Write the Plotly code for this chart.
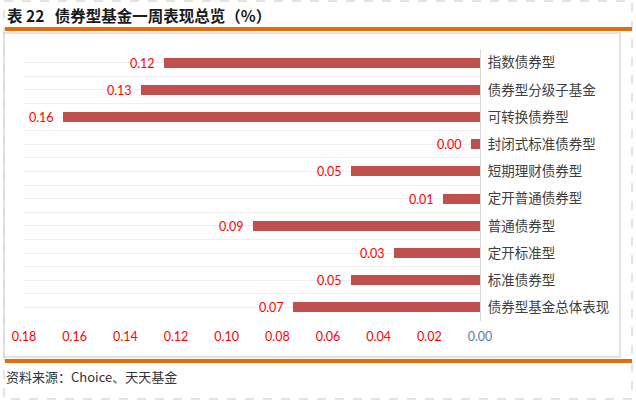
import plotly.graph_objects as go

categories = ["指数债券型", "债券型分级子基金", "可转换债券型", "封闭式标准债券型", "短期理财债券型",
              "定开普通债券型", "普通债券型", "定开标准型", "标准债券型", "债券型基金总体表现"]
values = [0.1247, 0.1338, 0.1646, 0.0036, 0.0509, 0.0146, 0.0896, 0.0340, 0.0510, 0.0738]
tick_vals = [0.18, 0.16, 0.14, 0.12, 0.10, 0.08, 0.06, 0.04, 0.02, 0.00]
tick_text = ["0.18", "0.16", "0.14", "0.12", "0.10", "0.08", "0.06", "0.04", "0.02", "0.00"]

W, H = 636, 404
ML, MR, MT, MB = 24, 156, 49, 83
PW, PH = W - ML - MR, H - MT - MB

def px(x):
    return (x - ML) / PW

def py(y):
    return (H - MB - y) / PH

ypos = list(range(len(categories)))

fig = go.Figure()
fig.add_trace(go.Bar(
    x=values, y=ypos, orientation="h",
    marker=dict(color="#C0504D", line=dict(width=0)),
    width=0.37,
    text=[f"{v:.2f}\u00a0\u00a0" for v in values],
    textposition="outside",
    constraintext="none",
    textfont=dict(color="#FF0000", size=12.5, family="Lato"),
    cliponaxis=False,
    hoverinfo="skip",
))

colored_ticks = [f"<span style='color:#FF0000'>{t}</span>" if t != "0.00" else f"<span style='color:#5B7EA4'>{t}</span>" for t in tick_text]

fig.update_layout(
    width=W, height=H,
    margin=dict(l=ML, r=MR, t=MT, b=MB),
    paper_bgcolor="white", plot_bgcolor="white",
    showlegend=False,
    bargap=0,
    xaxis=dict(
        range=[0.18, 0], tickvals=tick_vals, ticktext=colored_ticks,
        showgrid=False, zeroline=False, showline=False,
        tickfont=dict(size=12.5, family="Lato", color="#FF0000"),
        ticks="", ticklabelstandoff=6,
    ),
    yaxis=dict(
        range=[9.5, -0.5], tickvals=ypos, ticktext=categories, side="right",
        showgrid=True, gridcolor="#EFEFEF", gridwidth=1,
        minor=dict(dtick=1, tick0=0.5, showgrid=True, gridcolor="#EFEFEF", gridwidth=1),
        zeroline=False,
        showline=True, linecolor="#D9D9D9", linewidth=1,
        tickfont=dict(size=13.5, family="Noto Sans CJK SC", color="#404040"),
        ticks="", ticklabelstandoff=4,
    ),
)

shapes = []
shapes.append(dict(type="rect", xref="paper", yref="paper",
                   x0=px(4), x1=px(632), y0=py(1), y1=py(399),
                   line=dict(color="#C8C8C8", width=1, dash="dash"), layer="below"))
shapes.append(dict(type="rect", xref="paper", yref="paper",
                   x0=px(4), x1=px(620), y0=py(33), y1=py(357),
                   line=dict(color="#D9D9D9", width=1.5), layer="below"))
for y0, y1 in [(27, 31), (359, 363)]:
    shapes.append(dict(type="rect", xref="paper", yref="paper",
                       x0=px(5), x1=px(632), y0=py(y0), y1=py(y1),
                       fillcolor="#E46C0A", line=dict(width=0)))
fig.update_layout(shapes=shapes)

fig.add_annotation(xref="paper", yref="paper", x=px(5), y=py(15),
                   xanchor="left", yanchor="middle", showarrow=False,
                   text="<b>表 22&nbsp;&nbsp;&nbsp;债券型基金一周表现总览（%）</b>",
                   font=dict(size=15.5, family="Noto Sans CJK SC", color="#1A1A1A"))
fig.add_annotation(xref="paper", yref="paper", x=px(4), y=py(376),
                   xanchor="left", yanchor="middle", showarrow=False,
                   text="资料来源：Choice、天天基金",
                   font=dict(size=13, family="Noto Sans CJK SC", color="#333333"))

fig.write_html("out.html", config={"displayModeBar": False},
               post_script="document.body.style.margin='0px';")
